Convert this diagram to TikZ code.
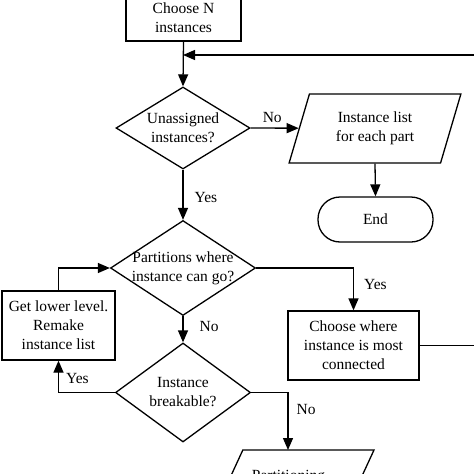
\documentclass[tikz,border=0pt]{standalone}
\usepackage{fontspec}
\setmainfont{Liberation Serif}
\usetikzlibrary{arrows.meta,shapes.geometric}
\begin{document}
\begin{tikzpicture}[x=1pt,y=-1pt,
  every node/.style={font=\fontsize{15.5}{19}\selectfont, align=center, inner sep=0pt},
  box/.style={draw, line width=1.3pt, rectangle},
  dia/.style={draw, line width=1.3pt, diamond},
  para/.style={draw, line width=1.3pt, trapezium, trapezium left angle=71, trapezium right angle=109, trapezium stretches=true, inner sep=2pt},
  term/.style={draw, line width=1.3pt, rectangle, rounded corners=22pt},
  arr/.style={line width=1.3pt, -{Triangle[length=12pt,width=10pt]}},
  lbl/.style={font=\fontsize{15.5}{19}\selectfont}]
\useasboundingbox (0,0) rectangle (474,474);
\clip (0,0) rectangle (474,474);
\fill[white] (0,0) rectangle (474,474);

% nodes
\node[box, minimum width=115pt, minimum height=47pt] (choose) at (183.5,17.5) {Choose N\\instances};
\node[dia, minimum width=134pt, minimum height=82pt] (d1) at (183,128) {};
\node at (183,128) {Unassigned\\instances?};
\node[para, minimum width=172pt, minimum height=69pt] (in1) at (375,128.5) {Instance list\\for each part};
\node[term, minimum width=115pt, minimum height=45pt] (end) at (375.5,219.5) {End};
\node[dia, minimum width=145pt, minimum height=95pt] (d2) at (183,268) {};
\node at (183,268) {Partitions where\\instance can go?};
\node[box, minimum width=131pt, minimum height=69pt] (where) at (353.5,345.5) {Choose where\\instance is most\\connected};
\node[box, minimum width=113pt, minimum height=69pt] (lower) at (58.5,325.5) {Get lower level.\\Remake\\instance list};
\node[dia, minimum width=135pt, minimum height=99pt] (d3) at (183,392.5) {};
\node at (183,392.5) {Instance\\breakable?};
\node[para, minimum width=163pt, minimum height=69pt] (part) at (292.5,484.5) {\phantom{X}};
\node at (288.5,477) {Partitioning};

% helper coordinates
\coordinate (r1) at (490,345.5);
\coordinate (r2) at (490,55);
\coordinate (j1) at (183,55);
\coordinate (nt) at (288,450);

% connectors
\draw[arr] (choose.south) -- (d1.north);
\draw[arr] (where.east) -- (r1) -- (r2) -- (j1);
\draw[arr] (d1.east) -- (in1) node[lbl, pos=0.45, above=5pt] {No};
\draw[arr] (in1.south) -- (end.north);
\draw[arr] (d1.south) -- (d2.north) node[lbl, pos=0.55, right=11pt] {Yes};
\draw[arr] (d2.east) -| (where.north) node[lbl, pos=0.7, right=10pt] {Yes};
\draw[arr] (d2.south) -- (d3.north) node[lbl, pos=0.4, right=16pt] {No};
\draw[arr] (d3.west) -| (lower.south) node[lbl, pos=0.72, right=7pt] {Yes};
\draw[arr] (lower.north) |- (d2.west);
\draw[arr] (d3.east) -| (nt) node[lbl, pos=0.65, right=8pt] {No};
\end{tikzpicture}
\end{document}
